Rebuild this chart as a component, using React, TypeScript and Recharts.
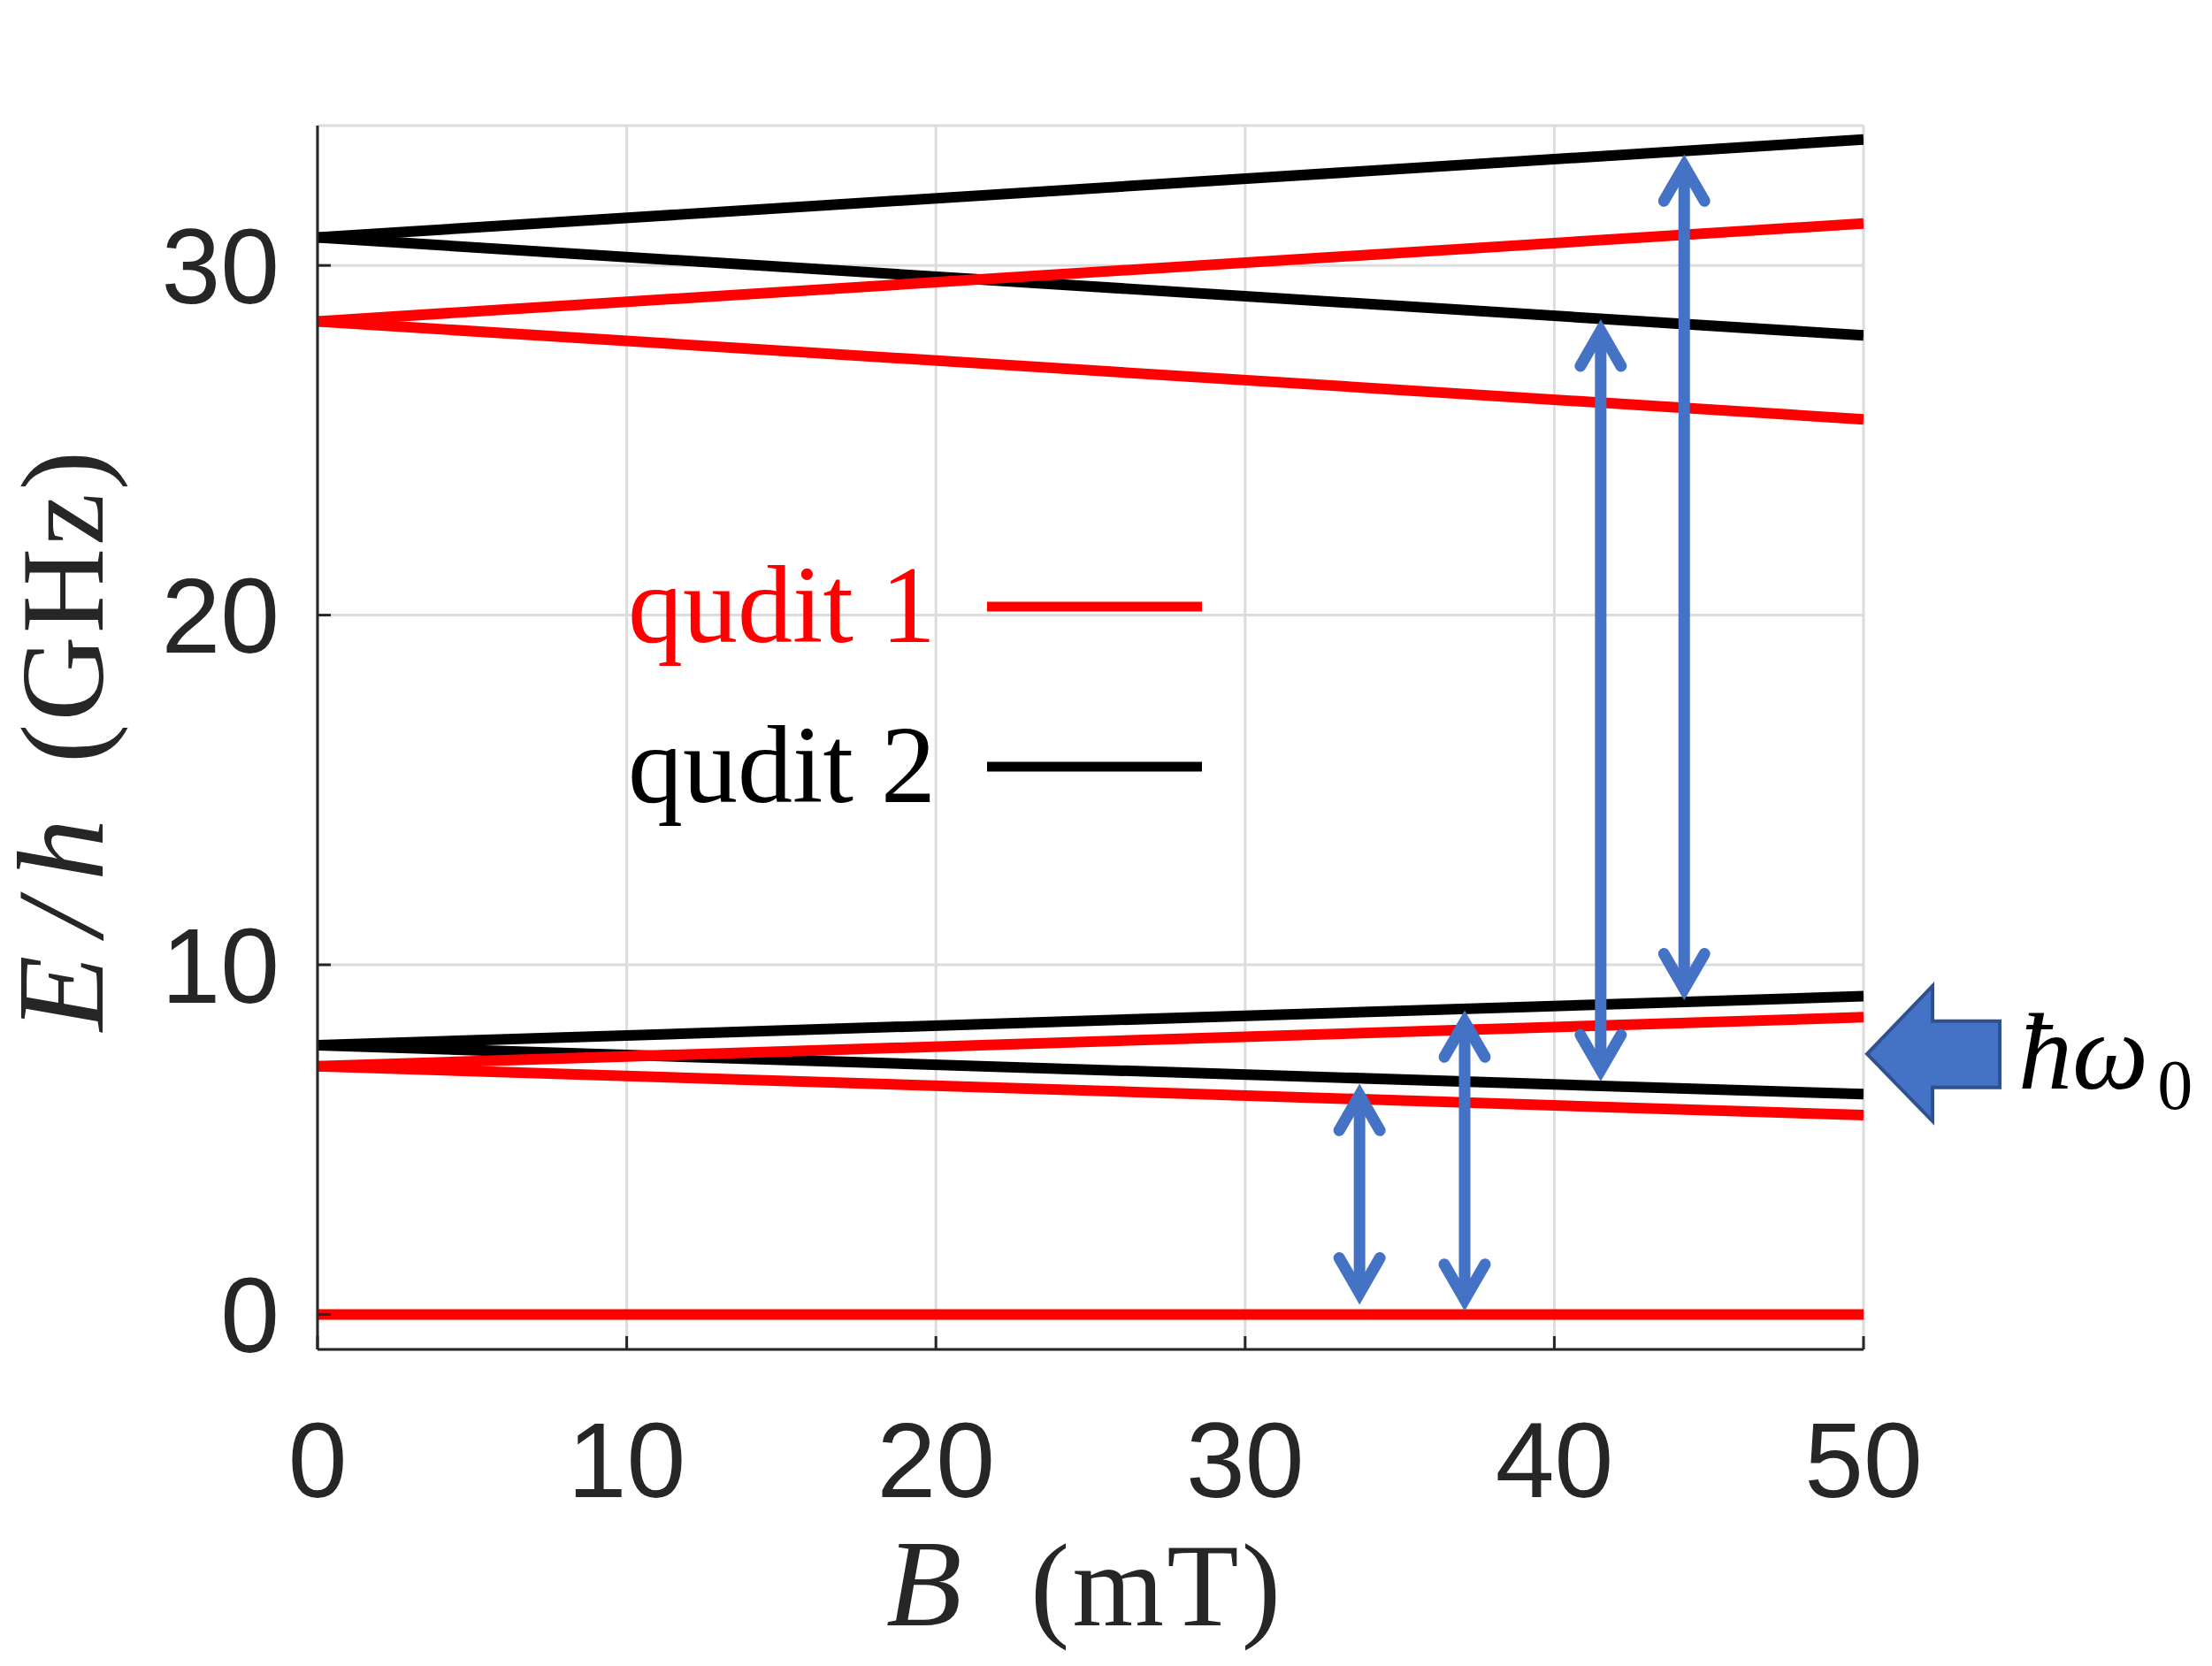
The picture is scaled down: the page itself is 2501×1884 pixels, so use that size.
import React from 'react'
import {
  ComposedChart,
  Line,
  XAxis,
  YAxis,
  CartesianGrid,
  ReferenceLine,
  ReferenceDot,
  Legend,
  Label,
} from 'recharts'

// magnetic field points (mT) at which the levels are given
const FIELD = [0, 50]
// energy levels E/h (GHz) of each qudit, one row per FIELD point
const QUDIT1_LEVELS = [
  [0, 7.1, 7.1, 28.4, 28.4],
  [0, 8.5, 5.7, 31.2, 25.6],
]
const QUDIT2_LEVELS = [
  [7.7, 7.7, 30.8, 30.8],
  [9.1, 6.3, 33.6, 28.0],
]

// transitions drawn as double arrows
const TRANSITION_B = [33.7, 37.1, 41.5, 44.2]
const TRANSITION_FROM = [0.28, 0.1, 6.66, 8.98]
const TRANSITION_TO = [6.6, 8.7, 28.46, 33.18]

// drive frequency marker
const PUMP_B = 50
const PUMP_E = 7.45

const X_TICKS = [0, 10, 20, 30, 40, 50]
const Y_TICKS = [0, 10, 20, 30]
const X_DOMAIN = [0, 50]
const Y_DOMAIN = [-1, 34]

const LEGEND_LABELS = ['qudit 1', 'qudit 2']
const LEGEND_COLORS = ['#ff0000', '#000000']

const AXIS_COLOR = '#262626'
const BLUE = '#4472C4'

const data = FIELD.map((b, i) => {
  const row: Record<string, number> = { B: b }
  QUDIT1_LEVELS[i].forEach((e, k) => (row[`q1_${k}`] = e))
  QUDIT2_LEVELS[i].forEach((e, k) => (row[`q2_${k}`] = e))
  return row
})

const tickFont = { fontSize: 120, fill: AXIS_COLOR, fontFamily: 'Liberation Sans, Arial, sans-serif' }

function TransitionArrow(props: any) {
  const { x1, y1, y2 } = props
  const x = x1
  const yLow = Math.max(y1, y2)
  const yHigh = Math.min(y1, y2)
  const w = 13
  const ang = (30 * Math.PI) / 180
  const miter = w / 2 / Math.sin(ang)
  const armLen = 46
  const ax = armLen * Math.sin(ang)
  const ay = armLen * Math.cos(ang)
  const vLow = yLow - miter
  const vHigh = yHigh + miter
  const common = {
    fill: 'none',
    stroke: BLUE,
    strokeWidth: w,
    strokeLinecap: 'round' as const,
    strokeLinejoin: 'miter' as const,
    strokeMiterlimit: 10,
  }
  return (
    <g>
      <line x1={x} y1={vLow} x2={x} y2={vHigh} stroke={BLUE} strokeWidth={w} />
      <polyline points={`${x - ax},${vLow - ay} ${x},${vLow} ${x + ax},${vLow - ay}`} {...common} />
      <polyline points={`${x - ax},${vHigh + ay} ${x},${vHigh} ${x + ax},${vHigh + ay}`} {...common} />
    </g>
  )
}

function PumpMarker(props: any) {
  const { cx, cy } = props
  const pts = [
    [4, 0],
    [78, -77],
    [78, -37],
    [154, -37],
    [154, 38],
    [78, 38],
    [78, 76],
  ]
    .map(([dx, dy]) => `${cx + dx},${cy + dy}`)
    .join(' ')
  return (
    <g>
      <polygon points={pts} fill={BLUE} stroke="#2F528F" strokeWidth={4} />
      <text
        x={cx + 175}
        y={cy + 39}
        fontFamily="Liberation Serif, Times New Roman, serif"
        fontStyle="italic"
        fontSize={122}
        fill="#000"
      >
        ħω
        <tspan fontSize={80} fontStyle="normal" dx={10} dy={23}>
          0
        </tspan>
      </text>
    </g>
  )
}

function YLabel(props: any) {
  const vb = props.viewBox ?? { x: 0, y: 142, width: 359, height: 1384 }
  const cy = vb.y + vb.height / 2
  const bx = vb.x + 116
  const font = { fontFamily: 'Liberation Serif, Times New Roman, serif', fill: AXIS_COLOR }
  return (
    <g transform={`translate(${bx},${cy}) rotate(-90)`}>
      <text x={-332} y={0} {...font} fontSize={140} fontStyle="italic" textLength={240} lengthAdjust="spacing">
        E/h
      </text>
      <text x={-29} y={0} {...font} fontSize={133} textLength={353} lengthAdjust="spacing">
        (GHz)
      </text>
    </g>
  )
}

function XLabel(props: any) {
  const vb = props.viewBox ?? { x: 359, y: 1526, width: 1748, height: 358 }
  const cx = vb.x + vb.width / 2
  const by = vb.y + 312
  const font = { fontFamily: 'Liberation Serif, Times New Roman, serif', fill: AXIS_COLOR }
  return (
    <g>
      <text x={cx - 231} y={by} {...font} fontSize={140} fontStyle="italic">
        B
      </text>
      <text x={cx - 68} y={by} {...font} fontSize={133} textLength={283} lengthAdjust="spacing">
        (mT)
      </text>
    </g>
  )
}

function LegendBox() {
  return (
    <svg width={700} height={400}>
      {LEGEND_LABELS.map((label, i) => (
        <g key={label}>
          <text
            x={20}
            y={166 + i * 181}
            fontFamily="Liberation Serif, Times New Roman, serif"
            fontSize={124}
            fill={LEGEND_COLORS[i]}
          >
            {label}
          </text>
          <line x1={426} x2={669} y1={126 + i * 181} y2={126 + i * 181} stroke={LEGEND_COLORS[i]} strokeWidth={11} />
        </g>
      ))}
    </svg>
  )
}

export default function App() {
  return (
    <div style={{ position: 'absolute', left: 0, top: 0, background: '#fff' }}>
      <ComposedChart width={2501} height={1884} data={data} margin={{ top: 142, right: 394, bottom: 0, left: 0 }}>
        <CartesianGrid stroke="#dcdcdc" strokeWidth={3} />
        <XAxis
          dataKey="B"
          type="number"
          domain={X_DOMAIN}
          ticks={X_TICKS}
          allowDataOverflow
          height={358}
          tick={tickFont}
          tickSize={-15}
          tickMargin={97}
          axisLine={{ stroke: AXIS_COLOR, strokeWidth: 3 }}
          tickLine={{ stroke: AXIS_COLOR, strokeWidth: 3 }}
        >
          <Label content={XLabel} />
        </XAxis>
        <XAxis
          xAxisId="top"
          orientation="top"
          type="number"
          domain={X_DOMAIN}
          ticks={X_TICKS}
          allowDataOverflow
          height={0}
          tick={false}
          tickSize={-15}
          axisLine={{ stroke: AXIS_COLOR, strokeWidth: 3 }}
          tickLine={{ stroke: AXIS_COLOR, strokeWidth: 3 }}
        />
        <YAxis
          type="number"
          domain={Y_DOMAIN}
          ticks={Y_TICKS}
          allowDataOverflow
          width={359}
          tick={tickFont}
          tickSize={-15}
          tickMargin={58}
          axisLine={{ stroke: AXIS_COLOR, strokeWidth: 3 }}
          tickLine={{ stroke: AXIS_COLOR, strokeWidth: 3 }}
        >
          <Label content={YLabel} />
        </YAxis>
        <YAxis
          yAxisId="right"
          orientation="right"
          type="number"
          domain={Y_DOMAIN}
          ticks={Y_TICKS}
          allowDataOverflow
          width={0}
          tick={false}
          tickSize={-15}
          axisLine={{ stroke: AXIS_COLOR, strokeWidth: 3 }}
          tickLine={{ stroke: AXIS_COLOR, strokeWidth: 3 }}
        />
        {QUDIT2_LEVELS[0].map((_, k) => (
          <Line
            key={`q2_${k}`}
            dataKey={`q2_${k}`}
            type="linear"
            stroke="#000000"
            strokeWidth={12}
            dot={false}
            activeDot={false}
            legendType="none"
            isAnimationActive={false}
          />
        ))}
        {QUDIT1_LEVELS[0].map((_, k) => (
          <Line
            key={`q1_${k}`}
            dataKey={`q1_${k}`}
            type="linear"
            stroke="#ff0000"
            strokeWidth={12}
            dot={false}
            activeDot={false}
            legendType="none"
            isAnimationActive={false}
          />
        ))}
        {TRANSITION_B.map((b, i) => (
          <ReferenceLine
            key={`t${i}`}
            segment={[
              { x: b, y: TRANSITION_FROM[i] },
              { x: b, y: TRANSITION_TO[i] },
            ]}
            shape={TransitionArrow}
            ifOverflow="visible"
          />
        ))}
        <ReferenceDot x={PUMP_B} y={PUMP_E} r={0} ifOverflow="visible" shape={PumpMarker} />
        <Legend
          layout="vertical"
          align="center"
          verticalAlign="middle"
          wrapperStyle={{ position: 'absolute', left: 690, top: 560, width: 700, height: 400 }}
          content={() => <LegendBox />}
        />
      </ComposedChart>
    </div>
  )
}
